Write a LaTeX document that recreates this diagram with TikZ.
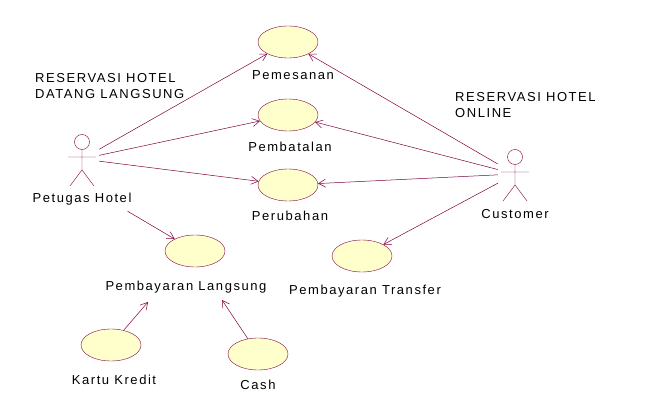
\documentclass[tikz,border=0pt]{standalone}
\usepackage{fontspec}
\setmainfont{Liberation Sans}[LetterSpace=12]
\usetikzlibrary{shapes.geometric,arrows.meta}
\definecolor{ln}{HTML}{800040}
\definecolor{uc}{HTML}{FFFFCC}
\begin{document}
\begin{tikzpicture}[x=1pt,y=-1pt,
  uc/.style={ellipse,draw=ln,fill=uc,minimum width=60pt,minimum height=32pt,inner sep=0pt},
  lbl/.style={font=\fontsize{13}{16}\selectfont,inner sep=0pt},
  act/.style={minimum width=34pt,minimum height=62pt,inner sep=0pt},
  ar/.style={draw=ln,-{Straight Barb[length=7pt,width=8pt]},line width=0.5pt}]
\useasboundingbox (0,0) rectangle (657,417);
\fill[white] (0,0) rectangle (657,417);
\node[uc] (pem) at (288,42) {};
\node[uc] (pbt) at (288,115) {};
\node[uc] (pru) at (288,185) {};
\node[uc] (pbl) at (195,251) {};
\node[uc] (pbtr) at (362,256) {};
\node[uc] (kk) at (111,345) {};
\node[uc] (cash) at (258,354) {};
\node[lbl] at (293,75) {Pemesanan};
\node[lbl] at (290,147) {Pembatalan};
\node[lbl] at (290,216) {Perubahan};
\node[lbl] (lpbl) at (186,287) {Pembayaran Langsung};
\node[lbl] at (365,291) {Pembayaran Transfer};
\node[lbl] at (114,380) {Kartu Kredit};
\node[lbl] at (258,385) {Cash};
\node[lbl,align=left,anchor=west] at (35,86) {RESERVASI HOTEL\\DATANG LANGSUNG};
\node[lbl,align=left,anchor=west] at (455,105) {RESERVASI HOTEL\\ONLINE};
% actors
\foreach \n/\x/\y/\t in {pet/82/142/Petugas Hotel, cus/515/157/Customer}{
  \draw[ln] (\x,\y) circle (7.5);
  \draw[ln] (\x,\y+7.5) -- (\x,\y+28) (\x-14,\y+15) -- (\x+14,\y+15)
            (\x-12,\y+44) -- (\x,\y+28) -- (\x+12,\y+44);
  \node[act] (\n) at (\x,\y+17) {};
  \node[lbl] (\n l) at (\x,\y+57) {\t};
}
\draw[ar] (pet) -- (pem);
\draw[ar] (pet) -- (pbt);
\draw[ar] (pet) -- (pru);
\draw[ar] (cus) -- (pem);
\draw[ar] (cus) -- (pbt);
\draw[ar] (cus) -- (pru);
\draw[ar] (cus) -- (pbtr);
\draw[ar] (petl.south east) ++(-4,6) -- (pbl);
\draw[ar] (kk) -- (148,302);
\draw[ar] (cash) -- (222,300);
\end{tikzpicture}
\end{document}
